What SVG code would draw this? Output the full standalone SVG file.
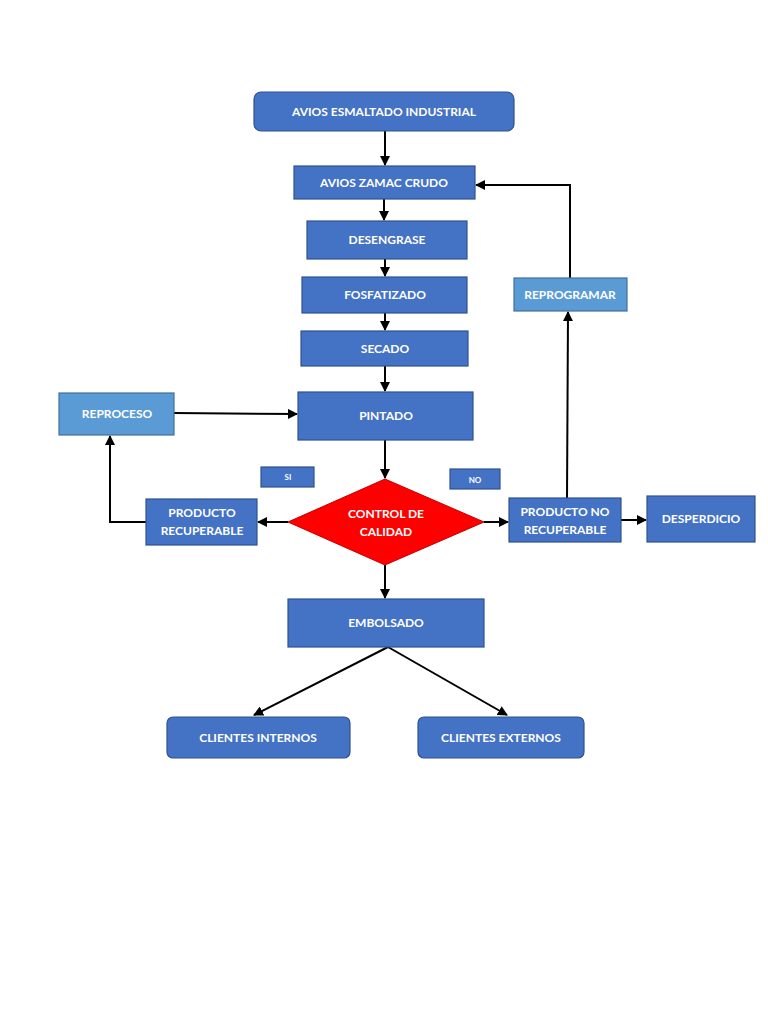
<svg xmlns="http://www.w3.org/2000/svg" width="768" height="1024" viewBox="0 0 768 1024">
<style>
.n{fill:#4472C4;stroke:#2F528F;stroke-width:1.2}
.l{fill:#5B9BD5;stroke:#41719C;stroke-width:1.2}
.d{fill:#FF0000;stroke:#C00000;stroke-width:1}
.t{font-family:Lato,"Open Sans","Liberation Sans",sans-serif;font-weight:bold;font-size:12px;fill:#fff;text-anchor:middle}
.s{font-size:8px}
.c{fill:none;stroke:#000;stroke-width:2}
</style>
<defs>
<marker id="a" viewBox="0 0 10 10" refX="9" refY="5" markerWidth="5" markerHeight="5" orient="auto" markerUnits="strokeWidth">
<path d="M0,0 L10,5 L0,10 z" fill="#000"/>
</marker>
</defs>
<rect width="768" height="1024" fill="#fff"/>
<g id="connectors">
<line class="c" x1="385" y1="131" x2="385" y2="165" marker-end="url(#a)"/>
<line class="c" x1="384" y1="199" x2="384" y2="220" marker-end="url(#a)"/>
<line class="c" x1="385" y1="259" x2="385" y2="276" marker-end="url(#a)"/>
<line class="c" x1="385" y1="313" x2="385" y2="330" marker-end="url(#a)"/>
<line class="c" x1="385" y1="366" x2="385" y2="391" marker-end="url(#a)"/>
<line class="c" x1="174" y1="413" x2="297" y2="414" marker-end="url(#a)"/>
<line class="c" x1="385" y1="440" x2="385" y2="478" marker-end="url(#a)"/>
<line class="c" x1="288" y1="522" x2="258" y2="522" marker-end="url(#a)"/>
<polyline class="c" points="146,522 110,522 110,436" marker-end="url(#a)"/>
<line class="c" x1="484" y1="522" x2="508" y2="522" marker-end="url(#a)"/>
<line class="c" x1="621" y1="520" x2="646" y2="520" marker-end="url(#a)"/>
<line class="c" x1="567" y1="498" x2="568" y2="312" marker-end="url(#a)"/>
<polyline class="c" points="570,278 570,185 476,185" marker-end="url(#a)"/>
<line class="c" x1="385" y1="565" x2="385" y2="598" marker-end="url(#a)"/>
<line class="c" x1="388" y1="647" x2="254" y2="715" marker-end="url(#a)"/>
<line class="c" x1="388" y1="647" x2="507" y2="715" marker-end="url(#a)"/>
</g>
<g id="n1"><rect class="n" x="254" y="92" width="260" height="39" rx="7"/><text class="t" x="384" y="116">AVIOS ESMALTADO INDUSTRIAL</text></g>
<g id="n2"><rect class="n" x="294" y="166" width="181" height="33"/><text class="t" x="384" y="187">AVIOS ZAMAC CRUDO</text></g>
<g id="n3"><rect class="n" x="307" y="221" width="160" height="38"/><text class="t" x="387" y="244">DESENGRASE</text></g>
<g id="n4"><rect class="n" x="302" y="277" width="165" height="36"/><text class="t" x="385" y="299">FOSFATIZADO</text></g>
<g id="n5"><rect class="n" x="301" y="331" width="167" height="35"/><text class="t" x="385" y="353">SECADO</text></g>
<g id="n6"><rect class="n" x="298" y="392" width="175" height="48"/><text class="t" x="386" y="420">PINTADO</text></g>
<g id="n7"><rect class="l" x="59" y="393" width="115" height="42"/><text class="t" x="117" y="418">REPROCESO</text></g>
<g id="n8"><rect class="l" x="514" y="278" width="113" height="33"/><text class="t" x="570" y="299">REPROGRAMAR</text></g>
<g id="si"><rect class="n" x="261" y="467" width="53" height="20"/><text class="t s" x="288" y="480">SI</text></g>
<g id="no"><rect class="n" x="450" y="469" width="50" height="20"/><text class="t s" x="475" y="483">NO</text></g>
<g id="n9"><polygon class="d" points="385,479 484,522 385,565 288,522"/><text class="t" x="386" y="518">CONTROL DE</text><text class="t" x="386" y="536">CALIDAD</text></g>
<g id="n10"><rect class="n" x="146" y="499" width="111" height="46"/><text class="t" x="202" y="517">PRODUCTO</text><text class="t" x="202" y="535">RECUPERABLE</text></g>
<g id="n11"><rect class="n" x="509" y="498" width="112" height="44"/><text class="t" x="565" y="516">PRODUCTO NO</text><text class="t" x="565" y="534">RECUPERABLE</text></g>
<g id="n12"><rect class="n" x="647" y="496" width="108" height="46"/><text class="t" x="701" y="523">DESPERDICIO</text></g>
<g id="n13"><rect class="n" x="288" y="599" width="196" height="48"/><text class="t" x="386" y="627">EMBOLSADO</text></g>
<g id="n14"><rect class="n" x="167" y="717" width="183" height="41" rx="6"/><text class="t" x="258" y="742">CLIENTES INTERNOS</text></g>
<g id="n15"><rect class="n" x="418" y="717" width="166" height="41" rx="6"/><text class="t" x="501" y="742">CLIENTES EXTERNOS</text></g>
</svg>
